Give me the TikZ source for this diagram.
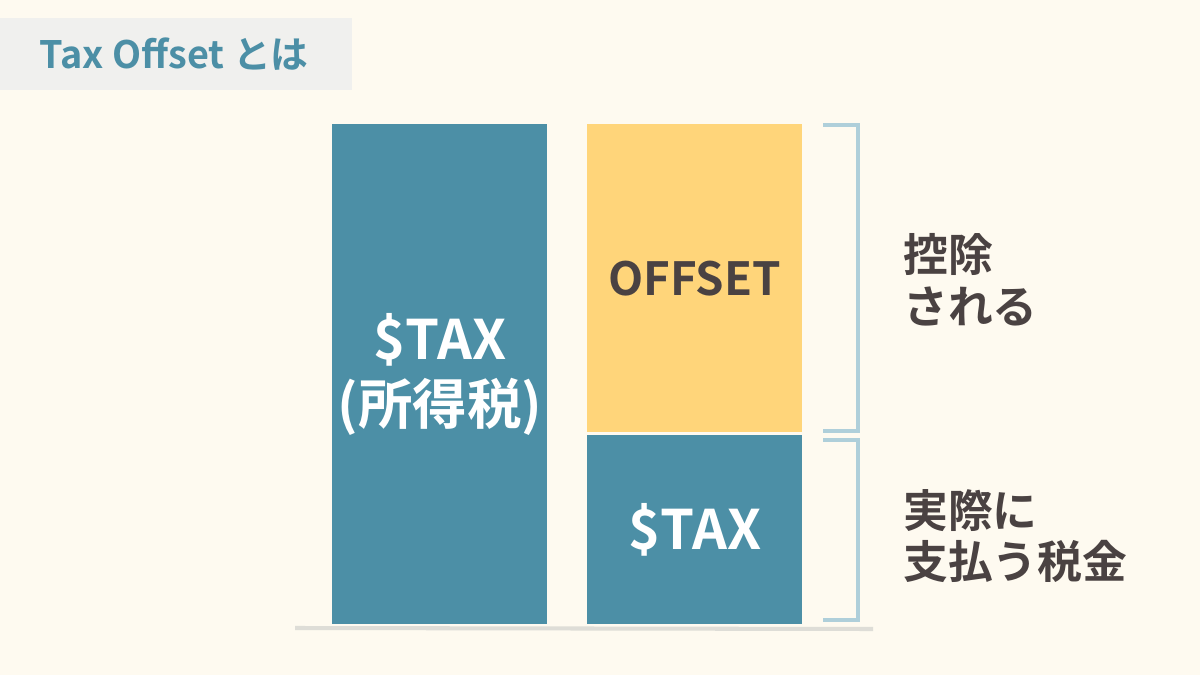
\documentclass[tikz,border=0pt]{standalone}
\usepackage{fontspec}
\setmainfont{Noto Sans CJK JP}[BoldFont={* Bold}]
\definecolor{bgcream}{HTML}{FEFAF0}
\definecolor{titlegray}{HTML}{F0F0EE}
\definecolor{taxteal}{HTML}{4C8FA6}
\definecolor{offsetyellow}{HTML}{FFD57A}
\definecolor{inkbrown}{HTML}{4A4242}
\definecolor{bracketblue}{HTML}{AFCFDA}
\definecolor{groundgray}{HTML}{DEDDD7}
\begin{document}
\begin{tikzpicture}[
			x=0.02cm, y=-0.02cm,
			bar/.style={rectangle, inner sep=0pt, minimum width=4.3cm, anchor=north west, align=center, font=\bfseries\fontsize{31}{37}\selectfont},
			brace/.style={draw=bracketblue, line width=1.9pt},
			label/.style={anchor=west, align=left, text=inkbrown, font=\bfseries\fontsize{25.5}{29.5}\selectfont}
		]
		% background and bounding box
		\fill[bgcream] (0,0) rectangle (1200,675);
		\useasboundingbox (0,0) rectangle (1200,675);
		% title
		\fill[titlegray] (0,18) rectangle (352,90);
		\node[text=taxteal, font=\bfseries\fontsize{21.5}{25}\selectfont] (title) at (174,54) {Tax Offset とは};
		% bars
		\node[bar, fill=taxteal, text=white, minimum height=10cm] (total) at (332,124) {\$TAX\\(所得税)};
		\node[bar, fill=offsetyellow, text=inkbrown, minimum height=6.16cm, font=\bfseries\fontsize{26}{31}\selectfont] (offset) at (587,124) {OFFSET};
		\node[bar, fill=taxteal, text=white, minimum height=3.78cm] (paid) at (587,435) {\$TAX};
		% ground line
		\coordinate (g1) at (295,628);
		\coordinate (g2) at (873,629);
		\draw[groundgray, line width=2.3pt] (g1) -- (g2);
		% brackets
		\coordinate (b1) at (823,125);
		\coordinate (b2) at (823,431);
		\coordinate (b3) at (823,440);
		\coordinate (b4) at (823,620);
		\draw[brace] (b1) -- ++(35,0) |- (b2);
		\draw[brace] (b3) -- ++(35,0) |- (b4);
		% labels
		\node[label] (deducted) at (897,280) {控除\\される};
		\node[label] (actual) at (897,536) {実際に\\支払う税金};
	\end{tikzpicture}
\end{document}
